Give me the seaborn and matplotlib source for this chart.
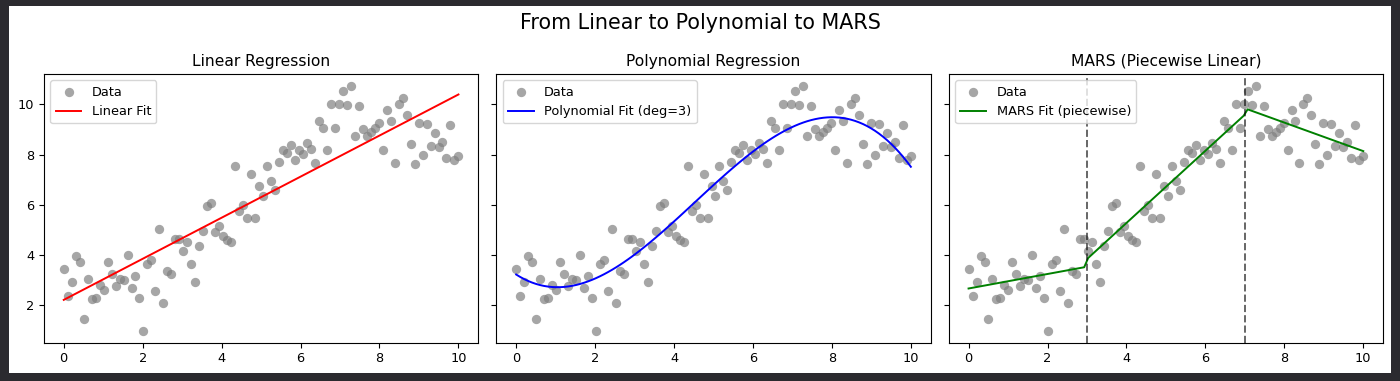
import numpy as np
import pandas as pd
import matplotlib
matplotlib.use('Agg')
import matplotlib.pyplot as plt
from matplotlib.patches import Rectangle
import seaborn as sns

# data (100 evenly spaced points from 0 to 10)
x_data = np.linspace(0, 10, 100)
y_data = [
    3.41, 2.36, 2.89, 3.93, 3.71, 1.44, 3.04, 2.21, 2.28, 2.77,
    2.59, 3.71, 3.23, 2.73, 3.04, 2.99, 4.00, 2.67, 3.13, 2.25,
    0.96, 3.61, 3.77, 2.56, 5.04, 2.08, 3.33, 3.21, 4.63, 4.63,
    4.15, 4.49, 3.64, 2.89, 4.35, 4.93, 5.93, 6.08, 4.92, 5.16,
    4.73, 4.57, 4.49, 7.56, 5.75, 5.97, 5.45, 7.23, 5.48, 6.76,
    6.35, 7.53, 6.96, 6.60, 7.69, 8.19, 8.05, 8.39, 7.79, 8.17,
    8.04, 8.47, 8.23, 7.68, 9.35, 9.05, 8.20, 10.01, 9.08, 10.01,
    10.53, 9.99, 10.73, 8.73, 9.93, 9.01, 8.75, 8.91, 9.07, 9.25,
    8.20, 9.79, 9.35, 7.68, 10.01, 10.27, 9.60, 8.43, 7.64, 9.27,
    8.00, 9.23, 8.33, 8.87, 8.31, 8.51, 7.85, 9.20, 7.79, 7.93,
]
knots = [3, 7]
titles = ['Linear Regression', 'Polynomial Regression', 'MARS (Piecewise Linear)']
fit_labels = ['Linear Fit', 'Polynomial Fit (deg=3)', 'MARS Fit (piecewise)']
fit_colors = ['red', 'blue', 'green']

plt.rcParams['font.size'] = 9.3
plt.rcParams['xtick.major.size'] = 3.3
plt.rcParams['ytick.major.size'] = 3.3

df = pd.DataFrame({'x': x_data, 'y': y_data})
x = df['x'].values
y = df['y'].values

# fits
lin = np.polyval(np.polyfit(x, y, 1), x)
poly = np.polyval(np.polyfit(x, y, 3), x)

edges = [-np.inf] + knots + [np.inf]
mars = np.zeros_like(x)
for lo, hi in zip(edges[:-1], edges[1:]):
    m = (x >= lo) & (x < hi)
    mars[m] = np.polyval(np.polyfit(x[m], y[m], 1), x[m])

fits = [lin, poly, mars]

fig, axes = plt.subplots(1, 3, figsize=(14, 3.81), dpi=100, sharey=True)
fig.patch.set_facecolor('#2b2a2f')
fig.add_artist(Rectangle((9 / 1400, 8 / 381), 1382 / 1400, 367 / 381,
                         transform=fig.transFigure, facecolor='white',
                         edgecolor='none', zorder=-10))
fig.subplots_adjust(left=44 / 1400, right=1383 / 1400, bottom=1 - 343 / 381,
                    top=1 - 74 / 381, wspace=0.042)

for i, ax in enumerate(axes):
    sns.scatterplot(data=df, x='x', y='y', ax=ax, color='gray', alpha=0.7,
                    s=45, linewidth=0, label='Data')
    sns.lineplot(x=x, y=fits[i], ax=ax, color=fit_colors[i], linewidth=1.4,
                 label=fit_labels[i], sort=False)
    if i == 2:
        for k in knots:
            ax.axvline(k, color='black', linestyle='--', alpha=0.6, linewidth=1.4)
    ax.set_title(titles[i], fontsize=11.2)
    ax.set_xlabel('')
    ax.set_ylabel('')
    ax.legend(loc='upper left')

fig.suptitle('From Linear to Polynomial to MARS', fontsize=14.9, y=0.965)
fig.savefig('out.png', dpi=100, facecolor=fig.get_facecolor())
